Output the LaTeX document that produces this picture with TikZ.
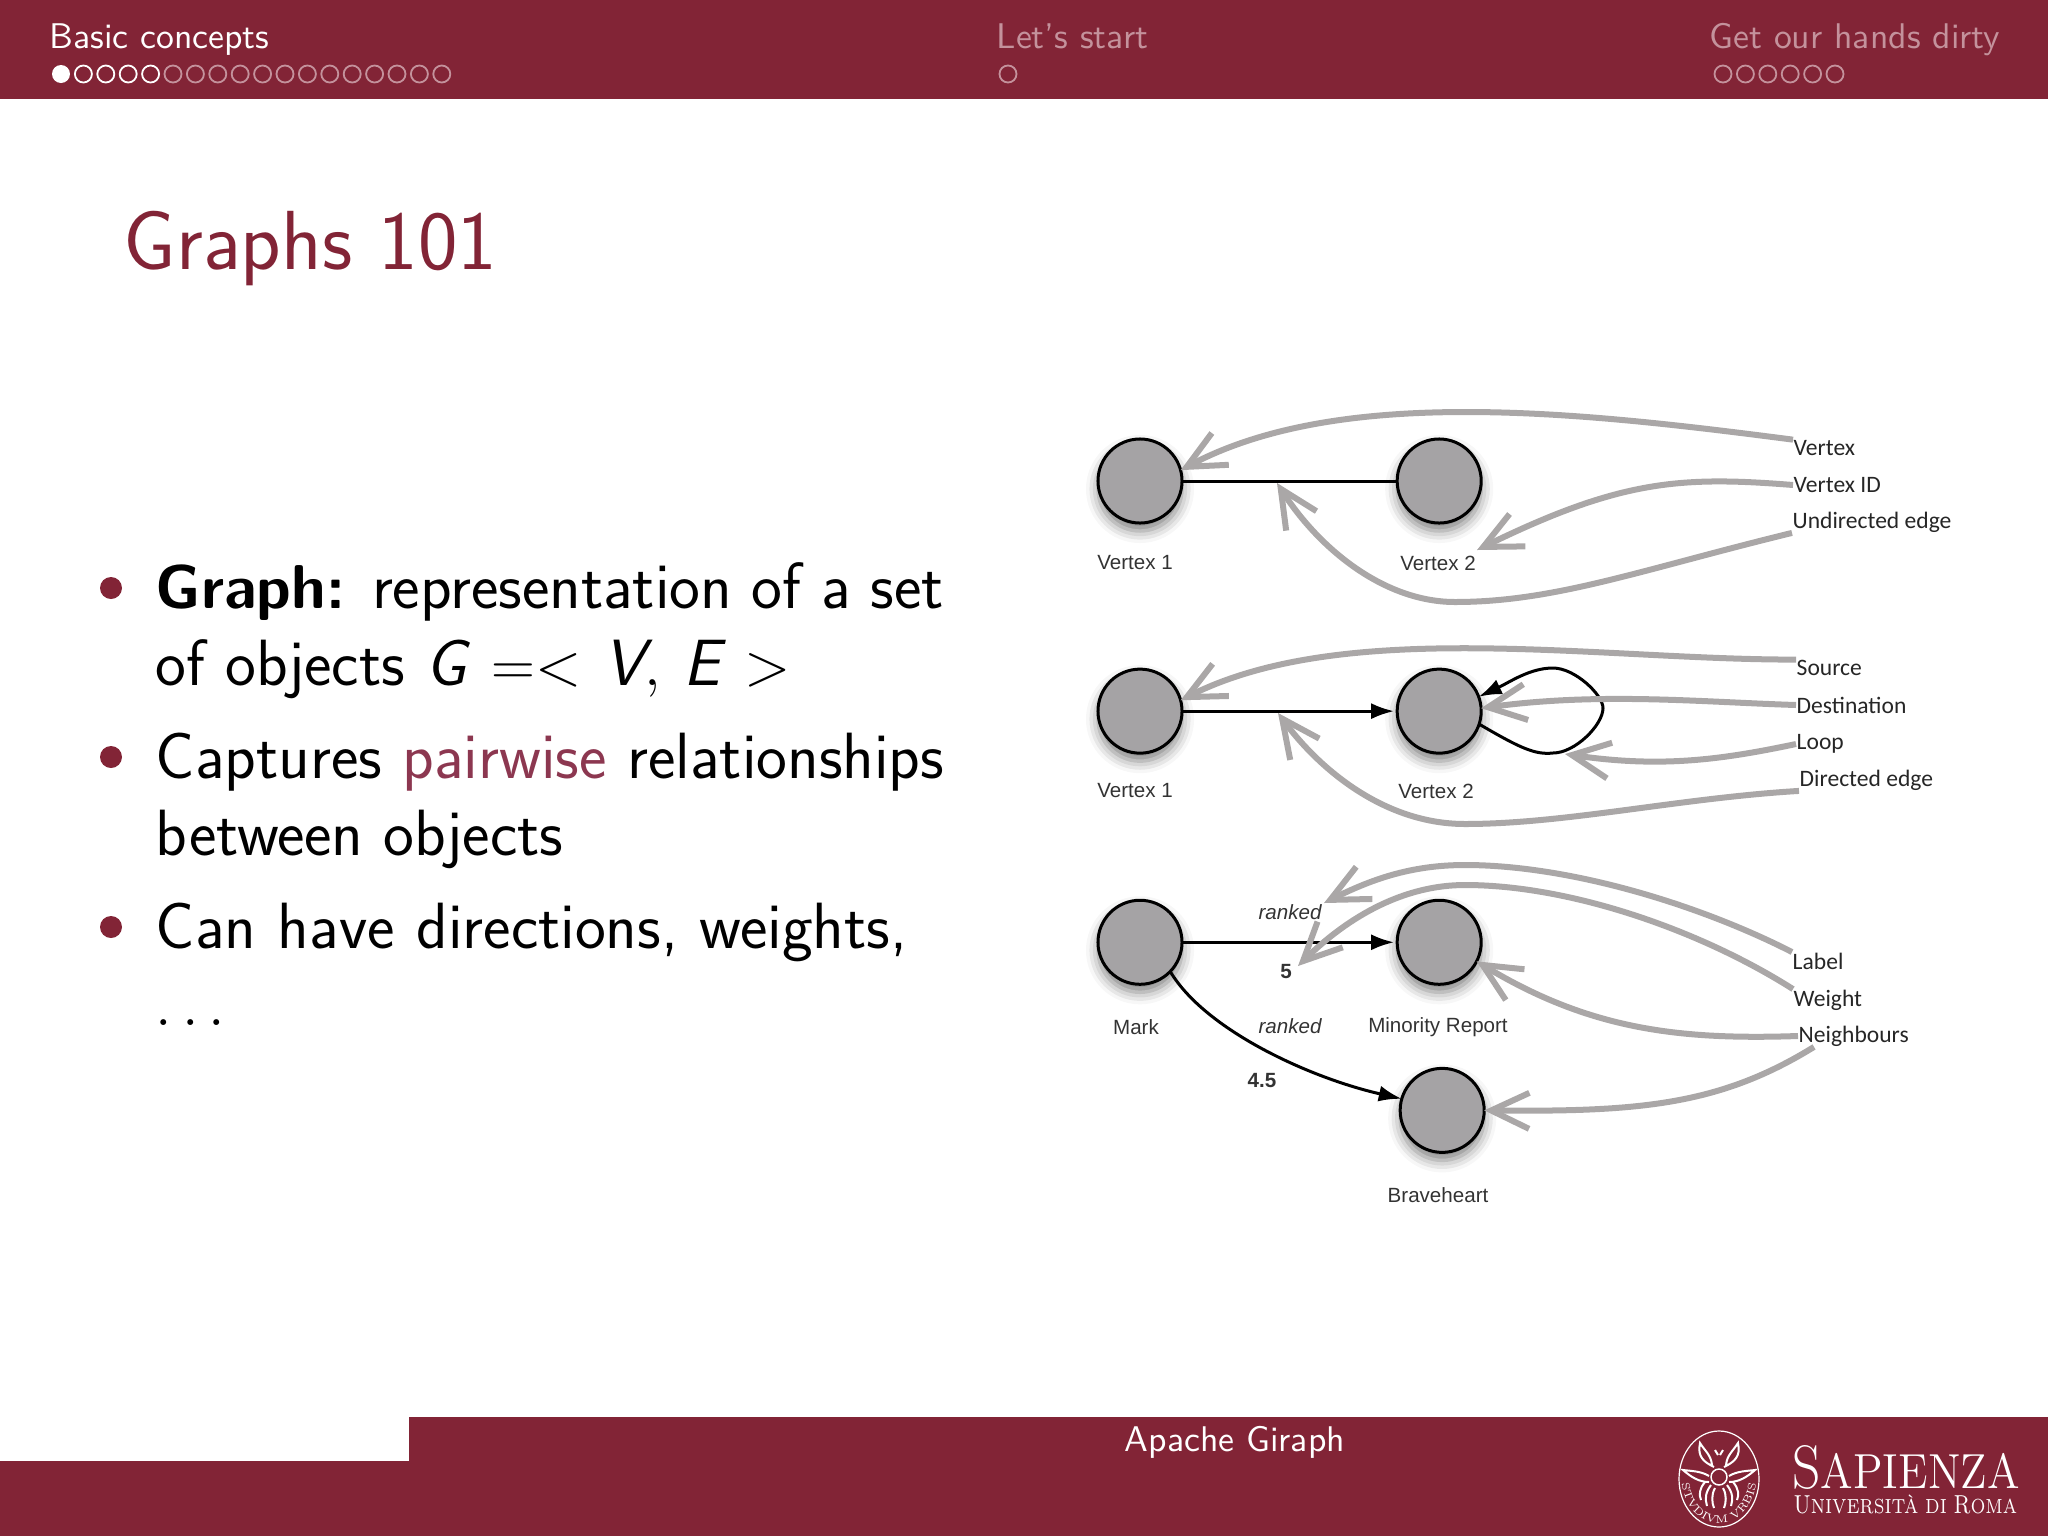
\documentclass[tikz,border=0pt]{standalone}
\usepackage{fontspec}
\usepackage{amsmath,amssymb}
\usepackage{tikz}
\usetikzlibrary{arrows.meta,positioning,shadows,shadows.blur,decorations.text}
\newfontfamily\chartfont{Liberation Sans}
\newfontfamily\notefont{Carlito}
\definecolor{barcol}{RGB}{130,36,54}
\definecolor{fadecol}{RGB}{196,146,156}
\definecolor{greycol}{RGB}{170,167,167}
\definecolor{vertcol}{RGB}{165,163,165}
\definecolor{alertcol}{RGB}{140,55,80}
\hyphenpenalty=10000
\tolerance=9999
\hbadness=10000
\tikzset{
    vertex/.style={draw, circle, minimum size=8.4mm, inner sep=0pt, outer sep=0pt, line width=.3mm, fill=vertcol,
        blur shadow={shadow xshift=0mm, shadow yshift=-.8mm, shadow blur radius=1.2mm, shadow opacity=50}},
    vlabel/.style={inner sep=0pt, font=\chartfont\fontsize{5.85}{7}\selectfont, text=black!80},
    note/.style={inner sep=0pt, anchor=west, font=\notefont\fontsize{6.7}{9}\selectfont, text=black!85},
    link/.style={line width=.3mm, black},
    linkto/.style={link, -{Latex[length=2.3mm, width=1.6mm]}, shorten >=.3mm},
    hint/.style={-{Straight Barb[length=3.8mm, width=3.6mm]}, line width=.6mm, greycol},
    bulletitem/.style={inner sep=0pt, anchor=north west, text width=7.88cm, align=justify,
        font=\sffamily\fontsize{18.6}{21.9}\selectfont},
    headtext/.style={inner sep=0pt, anchor=base west, font=\sffamily\fontsize{10.15}{13}\selectfont},
    dotmark/.style={line width=.18mm}
}
\newcommand{\mathvar}[1]{\mbox{\itshape #1}}

\begin{document}
\begin{tikzpicture}[x=0.01cm, y=-0.01cm]
    \useasboundingbox (0,0) rectangle (2048,1536);

    % top bar
    \fill[barcol] (0,0) rectangle (2048,99);
    \node[headtext, text=white] (secone) at (49,48) {Basic concepts};
    \node[headtext, text=fadecol] (sectwo) at (996,48) {Let’s start};
    \node[headtext, text=fadecol] (secthree) at (1709,48) {Get our hands dirty};
    \fill[white] (61,74) circle[radius=9];
    \foreach \i in {1,...,4}
        \draw[dotmark, white] (61+22.4*\i,74) circle[radius=8.5];
    \foreach \i in {5,...,17}
        \draw[dotmark, fadecol] (61+22.4*\i,74) circle[radius=8.5];
    \draw[dotmark, fadecol] (1008,74) circle[radius=8.5];
    \foreach \i in {0,...,5}
        \draw[dotmark, fadecol] (1723+22.4*\i,74) circle[radius=8.5];

    % title and items
    \node[inner sep=0pt, anchor=base west, text=barcol, font=\sffamily\fontsize{23.85}{28}\selectfont] (title) at (123,269) {Graphs 101};
    \foreach \y in {588,757,927}
        \fill[barcol] (111,\y) circle[radius=11];
    \node[bulletitem] (itemone) at (155,562) {{\fontsize{17.6}{21.9}\selectfont\textbf{Graph:}} representation of a set of objects $\mathvar{G}\hspace{2.3pt} =<\hspace{1.5pt} \mathvar{V},\hspace{3.6pt} \mathvar{E}\hspace{2pt} >$};
    \node[bulletitem] (itemtwo) at (155,732) {Captures \textcolor{alertcol}{pairwise} relationships between objects};
    \node[bulletitem, align=left] (itemthree) at (155,902) {Can have directions, weights,\\$\ldots$};

    % vertices
    \node[vertex] (vone) at (1140,481) {};
    \node[vertex, right=2.15cm of vone] (vtwo) {};
    \node[vertex, below=1.46cm of vone] (sone) {};
    \node[vertex, right=2.15cm of sone] (stwo) {};
    \node[vertex, below=1.47cm of sone] (mark) {};
    \node[vertex, right=2.15cm of mark] (minority) {};
    \node[vertex, below=.84cm of minority, xshift=.3mm] (brave) {};

    \node[vlabel] at (1135,563) (capvone) {Vertex 1};
    \node[vlabel] at (1438,563) (capvtwo) {Vertex 2};
    \node[vlabel] at (1135,791) (capsone) {Vertex 1};
    \node[vlabel] at (1436,791) (capstwo) {Vertex 2};
    \node[vlabel] at (1136,1027) (capmark) {Mark};
    \node[vlabel] at (1438,1027) (capminority) {Minority Report};
    \node[vlabel] at (1438,1195) (capbrave) {Braveheart};
    \node[vlabel, font=\chartfont\itshape\fontsize{5.85}{7}\selectfont] at (1290,912) (rankone) {ranked};
    \node[vlabel, font=\chartfont\itshape\fontsize{5.85}{7}\selectfont] at (1290,1026) (ranktwo) {ranked};
    \node[vlabel, font=\chartfont\bfseries\fontsize{5.85}{7}\selectfont] at (1286,972) (weightone) {5};
    \node[vlabel, font=\chartfont\bfseries\fontsize{5.85}{7}\selectfont] at (1262,1081) (weighttwo) {4.5};

    % edges
    \draw[link] (vone) -- (vtwo);
    \draw[linkto] (sone) -- (stwo);
    \draw[linkto] (mark) -- (minority);
    \draw[link, -{Latex[length=2.3mm, width=1.6mm]}] (mark.-44) .. controls (1205,1030) and (1310,1078) .. (brave.164);
    \draw[link, -{Latex[length=2.3mm, width=1.6mm]}] (stwo.-18) .. controls (1520,748) and (1535,755) .. (1553,753)
        .. controls (1575,753) and (1603,725) .. (1603,708)
        .. controls (1603,695) and (1575,668) .. (1553,668)
        .. controls (1530,668) and (1510,682) .. (stwo.20);

    % notes
    \node[note] (lvertex) at (1793,448) {Vertex};
    \node[note] (lvertexid) at (1793,485) {Vertex ID};
    \node[note] (lundirected) at (1792,522) {Undirected edge};
    \node[note] (lsource) at (1796,668) {Source};
    \node[note] (ldest) at (1796,705) {Destination};
    \node[note] (lloop) at (1796,744) {Loop};
    \node[note] (ldirected) at (1799,780) {Directed edge};
    \node[note] (llabel) at (1792,961) {Label};
    \node[note] (lweight) at (1793,1000) {Weight};
    \node[note] (lneigh) at (1798,1036) {Neighbours};

    \coordinate (idtip) at (1477,550);
    \coordinate (undirtip) at (1277,483);
    \coordinate (dirtip) at (1278,713);
    \coordinate (looptip) at (1565,754);
    \coordinate (labeltip) at (1324,903);
    \coordinate (weighttip) at (1298,966);

    \draw[hint] (lvertex.north west) .. controls (1580,412) and (1340,385) .. (vone.15);
    \draw[hint] (lvertexid.west) .. controls (1680,476) and (1620,480) .. (idtip);
    \draw[hint] (lundirected.south west) .. controls (1640,570) and (1555,602) .. (1455,602)
        .. controls (1385,602) and (1320,550) .. (undirtip);
    \draw[hint] (lsource.north west) .. controls (1600,660) and (1345,617) .. (sone.15);
    \draw[hint] (ldest.west) .. controls (1700,702) and (1600,692) .. (stwo.4);
    \draw[hint] (lloop.west) .. controls (1720,760) and (1660,768) .. (looptip);
    \draw[hint] (ldirected.south west) .. controls (1680,798) and (1565,824) .. (1465,824)
        .. controls (1385,824) and (1320,770) .. (dirtip);
    \draw[hint] (llabel.north west) .. controls (1700,905) and (1570,865) .. (1465,865)
        .. controls (1410,865) and (1370,880) .. (labeltip);
    \draw[hint] (lweight.north west) .. controls (1700,930) and (1570,885) .. (1465,885)
        .. controls (1405,885) and (1350,915) .. (weighttip);
    \draw[hint] (lneigh.west) .. controls (1680,1040) and (1590,1030) .. (minority.-27);
    \draw[hint] ([xshift=1.6mm]lneigh.south west) .. controls (1720,1105) and (1640,1112) .. (brave.0);

    % bottom bar
    \fill[barcol] (409,1417) rectangle (2048,1536);
    \fill[barcol] (0,1461) rectangle (409,1536);
    \node[inner sep=0pt, anchor=base, text=white, font=\sffamily\fontsize{10.15}{13}\selectfont] (footer) at (1235,1451) {Apache Giraph};

    % seal
    \begin{scope}[shift={(1719,1479)}, white]
        \draw[line width=.12mm] (0,0) ellipse[x radius=40, y radius=48];
        \draw[line width=.15mm] (0,-2) circle[radius=8];
        \foreach \sd in {1,-1} {
            \begin{scope}[xscale=\sd, line width=.2mm]
                \draw (5,-12) .. controls (15,-17) and (22,-22) .. (19,-36)
                    .. controls (14,-28) and (8,-24) .. (7,-14);
                \draw (10,-3) .. controls (18,-8) and (28,-8) .. (36,-9)
                    .. controls (28,-2) and (20,3) .. (10,3);
                \draw (8,6) .. controls (14,14) and (14,20) .. (12,27);
                \draw (4,9) .. controls (8,16) and (7,24) .. (5,29);
                \draw (14,3) .. controls (20,10) and (20,16) .. (18,21);
                \draw (1,-24) -- (4,-29);
            \end{scope}
        }
        \path[decorate, decoration={text along path, text align=center,
            text={|\fontsize{3.1}{5}\selectfont\color{white}|STVDIVM VRBIS}}]
            (-37,6) .. controls (-28,57) and (28,57) .. (37,6);
    \end{scope}
    \node[inner sep=0pt, anchor=base west, text=white, transform shape, xscale=.9, font=\fontsize{14}{16}\selectfont] (sapienza) at (1792,1488) {{\fontsize{17.5}{18}\selectfont S}APIENZA};
    \node[inner sep=0pt, anchor=base west, text=white, transform shape, xscale=.785, font=\fontsize{5.8}{7}\selectfont] (roma) at (1793,1513) {{\fontsize{7.4}{8}\selectfont U}NIVERSITÀ DI {\fontsize{7.4}{8}\selectfont R}OMA};
\end{tikzpicture}
\end{document}
